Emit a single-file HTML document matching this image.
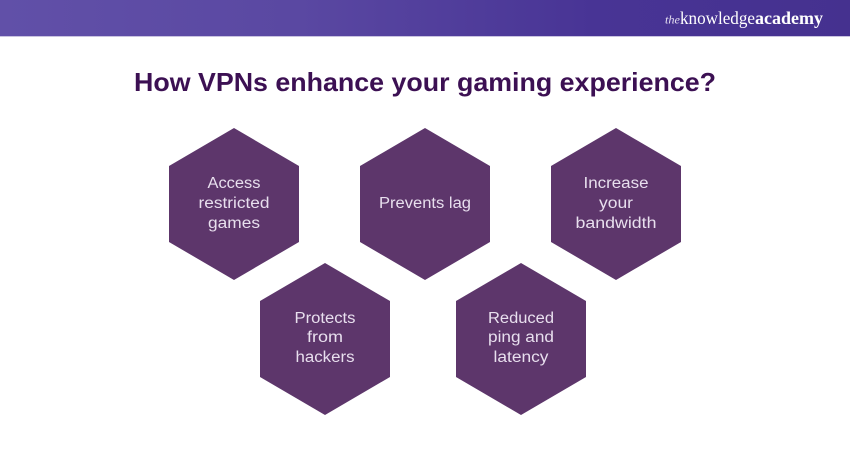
<!DOCTYPE html>
<html>
<head>
<meta charset="utf-8">
<style>
html,body{margin:0;padding:0;background:#fff;width:850px;height:450px;overflow:hidden}
svg{display:block}
.t{font-family:"Liberation Sans",sans-serif;font-size:15.5px;fill:#e8dfee;text-anchor:middle}
</style>
</head>
<body>
<svg width="850" height="450" viewBox="0 0 850 450" xmlns="http://www.w3.org/2000/svg">
<defs>
<linearGradient id="g" x1="0" x2="1" y1="0" y2="0">
<stop offset="0" stop-color="#6150a8"/>
<stop offset="0.35" stop-color="#5a48a2"/>
<stop offset="0.7" stop-color="#483495"/>
<stop offset="1" stop-color="#45318f"/>
</linearGradient>
</defs>
<rect width="850" height="450" fill="#fff"/>
<rect width="850" height="36" fill="url(#g)"/>
<rect y="36" width="850" height="1" fill="#c9c3e0"/>
<text x="665" y="23.500" font-family="'Liberation Serif',serif" font-style="italic" font-size="12" fill="#e6e0f2" textLength="15" lengthAdjust="spacingAndGlyphs">the</text>
<text x="680" y="24" font-family="'Liberation Serif',serif" font-size="17.500" fill="#fff" textLength="75" lengthAdjust="spacingAndGlyphs">knowledge</text>
<text x="755" y="24" font-family="'Liberation Serif',serif" font-weight="bold" font-size="17.500" fill="#fff" textLength="68" lengthAdjust="spacingAndGlyphs">academy</text>

<text x="134" y="91" font-family="'Liberation Sans',sans-serif" font-weight="bold" font-size="26" fill="#3c1053" textLength="582" lengthAdjust="spacingAndGlyphs">How VPNs enhance your gaming experience?</text>

<g fill="#5d366b">
<polygon points="234,128 299,166 299,242 234,280 169,242 169,166"/>
<polygon points="425,128 490,166 490,242 425,280 360,242 360,166"/>
<polygon points="616,128 681,166 681,242 616,280 551,242 551,166"/>
<polygon points="325,263 390,301 390,377 325,415 260,377 260,301"/>
<polygon points="521,263 586,301 586,377 521,415 456,377 456,301"/>
</g>

<text class="t" x="234" y="188" textLength="53" lengthAdjust="spacingAndGlyphs">Access</text>
<text class="t" x="234" y="208" textLength="71" lengthAdjust="spacingAndGlyphs">restricted</text>
<text class="t" x="234" y="228" textLength="52" lengthAdjust="spacingAndGlyphs">games</text>

<text class="t" x="425" y="208" textLength="92" lengthAdjust="spacingAndGlyphs">Prevents lag</text>

<text class="t" x="616" y="188" textLength="65" lengthAdjust="spacingAndGlyphs">Increase</text>
<text class="t" x="616" y="208" textLength="34" lengthAdjust="spacingAndGlyphs">your</text>
<text class="t" x="616" y="228" textLength="81" lengthAdjust="spacingAndGlyphs">bandwidth</text>

<text class="t" x="325" y="323" textLength="61" lengthAdjust="spacingAndGlyphs">Protects</text>
<text class="t" x="325" y="342" textLength="36" lengthAdjust="spacingAndGlyphs">from</text>
<text class="t" x="325" y="362" textLength="59" lengthAdjust="spacingAndGlyphs">hackers</text>

<text class="t" x="521" y="323" textLength="66" lengthAdjust="spacingAndGlyphs">Reduced</text>
<text class="t" x="521" y="342" textLength="66" lengthAdjust="spacingAndGlyphs">ping and</text>
<text class="t" x="521" y="362" textLength="55" lengthAdjust="spacingAndGlyphs">latency</text>
</svg>
</body>
</html>
